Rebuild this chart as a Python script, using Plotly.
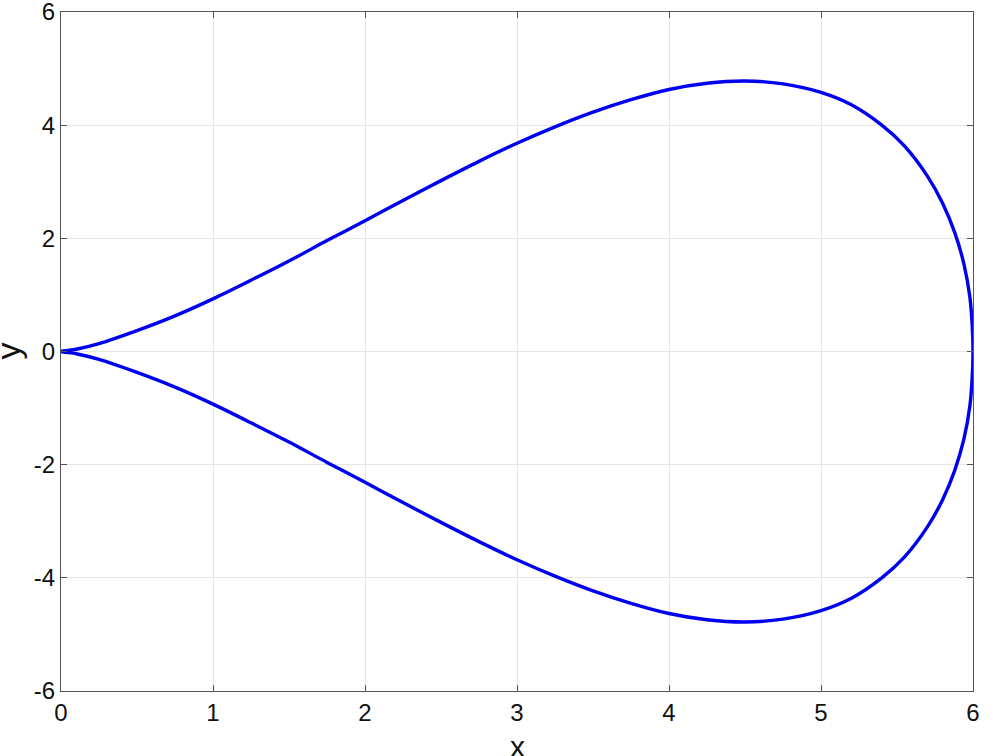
import plotly.graph_objects as go

# Values (upper branch, then lower branch)
x_upper = [0.0, 0.1, 0.25, 0.5, 0.75, 1.0, 1.25, 1.5, 1.75, 2.0, 2.25, 2.5, 2.75,
           3.0, 3.25, 3.5, 3.75, 4.0, 4.25, 4.5, 4.75, 5.0, 5.2, 5.4, 5.55, 5.7,
           5.8, 5.88, 5.94, 5.98, 5.995, 6.0]
y_upper = [0.0, 0.04, 0.14, 0.37, 0.63, 0.93, 1.26, 1.60, 1.96, 2.31, 2.67, 3.02, 3.36,
           3.68, 3.97, 4.23, 4.45, 4.63, 4.74, 4.78, 4.73, 4.58, 4.36, 4.00, 3.63, 3.10,
           2.62, 2.10, 1.55, 0.95, 0.45, 0.0]
x_lower = [6.0, 5.995, 5.98, 5.94, 5.88, 5.8, 5.7, 5.55, 5.4, 5.2, 5.0, 4.75, 4.5,
           4.25, 4.0, 3.75, 3.5, 3.25, 3.0, 2.75, 2.5, 2.25, 2.0, 1.75, 1.5, 1.25,
           1.0, 0.75, 0.5, 0.25, 0.1, 0.0]
y_lower = [0.0, -0.45, -0.95, -1.55, -2.10, -2.62, -3.10, -3.63, -4.00, -4.36, -4.58, -4.73, -4.78,
           -4.74, -4.63, -4.45, -4.23, -3.97, -3.68, -3.36, -3.02, -2.67, -2.31, -1.96, -1.60, -1.26,
           -0.93, -0.63, -0.37, -0.14, -0.04, 0.0]

x_ticks = [0, 1, 2, 3, 4, 5, 6]
y_ticks = [-6, -4, -2, 0, 2, 4, 6]

fig = go.Figure()
fig.add_trace(go.Scatter(
    x=x_upper + x_lower[1:], y=y_upper + y_lower[1:],
    mode="lines",
    line=dict(color="#0000f0", width=3.4, shape="spline", smoothing=0.8),
    showlegend=False, hoverinfo="skip",
))

font_family = "Liberation Sans, Arial, sans-serif"
axis_common = dict(
    showgrid=True, gridcolor="#e6e6e6", gridwidth=1,
    showline=True, linecolor="#555555", linewidth=1.2, mirror="allticks",
    ticks="inside", ticklen=6, tickcolor="#555555", tickwidth=1,
    zeroline=False, automargin=False, ticklabeloverflow="allow",
    tickfont=dict(family=font_family, size=24, color="#111111"),
)

fig.update_layout(
    width=993, height=756,
    margin=dict(l=61, r=20, t=12, b=65, autoexpand=False),
    paper_bgcolor="white", plot_bgcolor="white",
    xaxis=dict(range=[0, 6], tickvals=x_ticks, ticktext=[str(v) for v in x_ticks],
               ticklabelstandoff=0, **axis_common),
    yaxis=dict(range=[-6, 6], tickvals=y_ticks, ticktext=[str(v) for v in y_ticks],
               ticklabelstandoff=0, **axis_common),
    annotations=[
        dict(text="x", xref="paper", yref="paper", x=0.5, y=0, yanchor="top",
             xanchor="center", yshift=-37, showarrow=False,
             font=dict(family=font_family, size=30, color="#111111")),
        dict(text="y", xref="paper", yref="paper", x=0, y=0.5, xanchor="center",
             yanchor="middle", xshift=-54, textangle=-90, showarrow=False,
             font=dict(family=font_family, size=34, color="#111111")),
    ],
)

fig.write_html("out.html",
               config={"displayModeBar": False, "staticPlot": True},
               post_script="document.body.style.margin='0';document.body.style.overflow='hidden';")
